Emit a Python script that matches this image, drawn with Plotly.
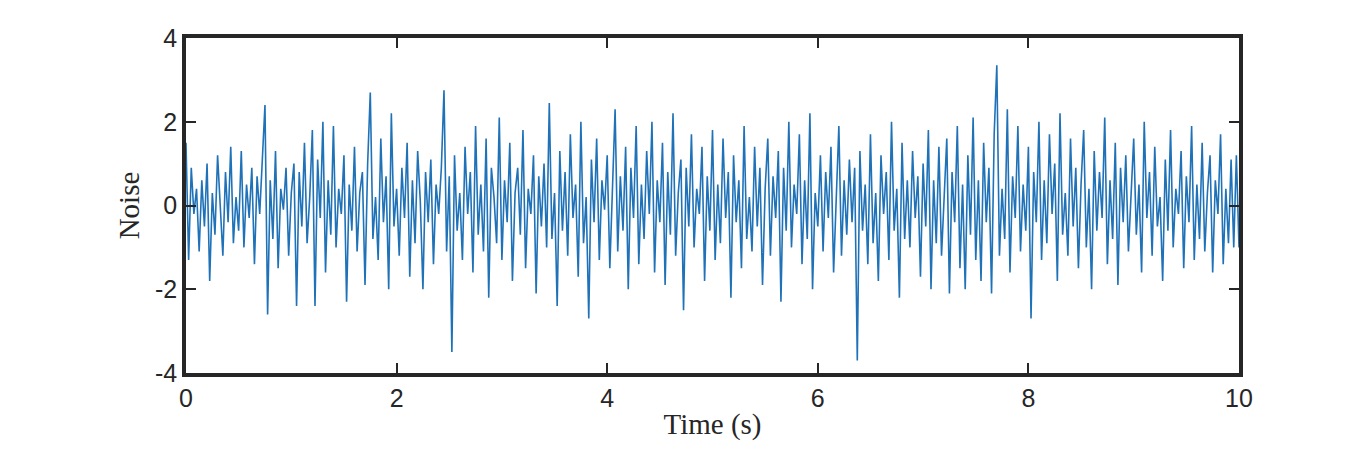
import plotly.graph_objects as go

dt = 0.025
noise = [
1.5,-1.3,0.9,-0.2,0.4,-1.1,0.6,-0.5,1.0,-1.8,0.3,-0.7,1.2,0.1,-1.2,0.8,-0.4,1.4,-0.9,0.2,
-0.6,1.3,-1.0,0.5,-0.3,0.9,-1.4,0.7,-0.2,1.1,2.4,-2.6,0.6,-0.8,1.3,-1.5,0.4,-0.1,0.9,-1.2,
0.3,1.0,-2.4,0.8,-0.5,1.5,-0.9,0.2,1.8,-2.4,1.1,-0.3,2.0,-1.6,0.6,-0.7,1.9,-1.0,0.4,-0.2,
1.2,-2.3,0.5,-0.6,1.4,-1.1,0.3,0.8,-1.9,1.0,2.7,-0.8,0.2,-1.3,1.6,-0.4,0.7,-2.0,2.2,-0.5,
0.4,-1.2,0.9,-0.3,1.5,-1.7,0.6,-0.9,1.3,0.1,-2.0,0.8,-0.4,1.1,-1.4,0.5,-0.2,0.9,2.75,-1.1,
0.7,-3.5,1.2,-0.6,0.3,-1.3,1.4,-0.2,0.8,-1.6,1.9,-0.7,0.5,-1.1,1.6,-2.2,0.9,0.2,-0.9,2.1,
-1.3,0.6,-0.4,1.5,-1.8,0.3,0.9,-0.7,1.8,-1.5,0.4,-0.2,1.2,-2.1,0.7,-0.5,1.0,-1.0,2.45,-0.8,
0.3,-2.4,1.3,-0.6,0.8,-1.2,1.7,-0.3,0.5,-1.7,2.0,-0.9,0.2,-2.7,1.1,-0.4,1.6,-1.3,0.6,-0.1,
1.2,-1.5,0.4,2.3,-1.1,0.7,-0.6,1.4,-2.0,0.9,-0.3,1.9,-1.4,0.5,-0.8,1.3,-0.2,2.0,-1.6,0.6,
-0.4,1.5,-1.9,0.8,-0.7,2.2,-1.2,0.3,1.1,-2.5,0.9,-0.5,1.7,-1.0,0.4,-0.2,1.4,-1.8,0.7,-0.6,
1.8,-1.3,0.5,-0.9,1.6,-0.3,0.8,-2.2,1.2,-0.4,0.6,-1.5,1.9,-0.8,0.2,-1.1,1.4,-0.5,0.9,-1.9,
0.4,1.6,-1.2,0.7,-0.3,1.3,-2.3,0.9,-0.6,2.0,-1.0,0.5,-0.2,1.7,-1.4,0.6,-0.8,2.2,-2.0,0.3,
-0.5,1.2,-1.1,0.8,-0.3,1.4,-1.6,0.4,1.9,-1.2,0.6,-0.7,1.1,-0.4,0.9,-3.7,1.3,-0.6,0.5,-1.4,
1.7,-0.9,0.3,-1.8,1.2,-0.2,0.8,-1.3,2.0,-0.6,0.4,-2.2,1.5,-0.8,0.6,-1.0,1.3,-0.3,0.7,-1.7,
1.0,-0.5,1.8,-2.0,0.6,-0.9,1.4,-1.2,0.3,1.6,-2.1,0.8,-0.4,1.9,-1.5,0.5,-2.0,1.2,-0.7,2.1,
-1.3,0.6,-1.8,1.5,-0.4,0.9,-2.1,1.7,3.35,-1.2,0.4,-0.8,2.3,-1.6,0.7,-0.3,1.9,-1.1,0.5,-0.6,
1.4,-2.7,0.8,-0.4,2.0,-1.3,0.6,-0.9,1.7,-0.2,1.0,-1.8,2.2,-0.7,0.3,-1.2,1.6,-0.5,0.9,-1.5,
0.5,1.8,-1.0,0.4,-2.0,1.3,-0.6,0.8,-0.3,2.1,-1.4,0.6,-0.8,1.5,-1.9,0.9,-0.4,1.2,-1.1,0.3,
1.6,-0.7,0.5,-1.6,2.0,-0.3,0.8,-1.2,1.4,-0.5,0.2,-1.8,1.1,-0.6,1.8,-1.0,0.4,-0.2,1.3,-1.5,
0.7,-0.4,1.9,-1.3,0.5,-0.8,1.5,-1.1,0.3,1.2,-1.6,0.6,-0.2,1.7,-1.4,0.4,-0.9,1.1,-1.0,1.2,
-1.0]
time = [i * dt for i in range(len(noise))]
x_ticks = [0, 2, 4, 6, 8, 10]
y_ticks = [-4, -2, 0, 2, 4]

fig = go.Figure(go.Scatter(x=time, y=noise, mode="lines",
                           line=dict(color="#1f72b8", width=1.6), hoverinfo="skip"))
axis = dict(showgrid=False, zeroline=False, showline=True, mirror="ticks",
            linecolor="#262626", linewidth=3.5, ticks="inside", ticklen=10,
            tickwidth=2, tickcolor="#262626", automargin=False,
            tickfont=dict(family="Liberation Sans", size=25, color="#262626"))
fig.update_xaxes(range=[0, 10], tickvals=x_ticks, ticktext=[str(v) for v in x_ticks], **axis,
                 title=dict(text="Time (s)", standoff=4,
                            font=dict(family="Liberation Serif", size=29, color="#262626")))
fig.update_yaxes(range=[-4, 4], tickvals=y_ticks, ticktext=[str(v) for v in y_ticks], **axis,
                 title=dict(text="Noise", standoff=8,
                            font=dict(family="Liberation Serif", size=29, color="#262626")))
fig.update_layout(width=1361, height=454, plot_bgcolor="white", paper_bgcolor="white",
                  margin=dict(l=178, r=130, t=30, b=89), showlegend=False)
fig.write_html("out.html")
